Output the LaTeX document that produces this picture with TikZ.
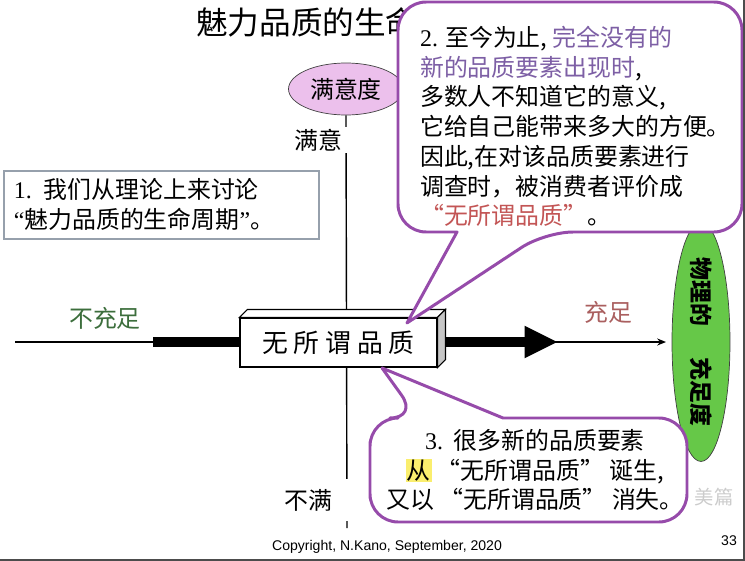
\documentclass[tikz,border=0pt]{standalone}
\usepackage{fontspec}
\setmainfont{Noto Sans CJK SC}
\newfontfamily\latinserif{Liberation Serif}
\newfontfamily\latinsans{Liberation Sans}
\usetikzlibrary{shapes.geometric,arrows.meta}
\definecolor{calloutpurple}{RGB}{150,75,170}
\definecolor{satpink}{RGB}{236,192,236}
\definecolor{physgreen}{RGB}{102,200,72}
\definecolor{textpurple}{RGB}{125,95,165}
\definecolor{textred}{RGB}{195,85,85}
\definecolor{deficgreen}{RGB}{60,110,60}
\definecolor{sufred}{RGB}{170,95,95}
\definecolor{noteframe}{RGB}{150,160,172}
\definecolor{hl}{RGB}{250,238,110}

\begin{document}
\begin{tikzpicture}[x=0.02cm, y=-0.02cm, font=\fontsize{13.6}{17}\selectfont]
\tikzset{
  callout/.style={draw=calloutpurple, line width=1.7pt, fill=white, line join=round},
  axis/.style={draw=black, line width=0.8pt},
  axislabel/.style={fill=white, inner sep=0pt},
  notebox/.style={draw=noteframe, line width=1pt, fill=white, align=left,
    text width=5.9cm, inner xsep=0.2cm, minimum height=1.36cm},
  front/.style={draw, fill=white, line width=0.6pt, minimum width=3.94cm,
    minimum height=0.98cm, inner sep=0pt, font=\fontsize{14.7}{17}\selectfont}
}
\useasboundingbox (0,0) rectangle (745,561);

\node[anchor=west, font=\fontsize{18}{20}\selectfont] (title) at (190,22) {魅力品质的生命周期};

\node[ellipse, draw=black!75, fill=satpink, minimum width=2.3cm, minimum height=1.04cm, inner sep=0pt] (sat) at (346,89) {满意度};
\coordinate (vbot) at (347,528);
\draw[axis] (sat.south) -- (vbot);
\node[axislabel, minimum width=1.4cm, minimum height=0.54cm] (satisfied) at (318,140) {满意};
\node[axislabel, minimum width=1.72cm, minimum height=0.84cm] (dissat) at (308,500) {不满};

\node[notebox, anchor=north west] (note1) at (3,170) {{\latinserif 1.} 我们从理论上来讨论\\{\latinserif “}魅力品质的生命周期{\latinserif ”}。};

\coordinate (hleft) at (15,342);
\coordinate (hright) at (666,342);
\coordinate (barstart) at (153,342);
\coordinate (barend) at (558,342);
\draw[axis, -{Stealth[length=5pt,width=4pt]}] (hleft) -- (hright);
\draw[line width=5.7pt, -{Triangle[length=19pt,width=17pt]}] (barstart) -- (barend);
\node[text=deficgreen] (insuf) at (105,318) {不充足};
\node[text=sufred] (suf) at (608,312) {充足};

\node[front] (indiff) at (338.5,342.5) {无 所 谓 品 质};
\draw[fill=white, line width=0.6pt] (indiff.north west) -- ++(8,-8) -- ([shift={(8,-8)}]indiff.north east) -- (indiff.north east) -- cycle;
\draw[fill=gray!45, line width=0.6pt] (indiff.north east) -- ++(8,-8) -- ([shift={(8,-8)}]indiff.south east) -- (indiff.south east) -- cycle;

\node[ellipse, draw=black!75, fill=physgreen, rotate=-90, minimum width=4.3cm, minimum height=1.16cm, inner sep=0pt, font=\bfseries\fontsize{13}{15}\selectfont] (phys) at (701,342) {物理的\quad\, 充足度};

\draw[callout] (398,120) [rounded corners=16pt] -- (398,2) -- (742,2) -- (742,232) -- (545,232) [sharp corners] -- (407,323) -- (457,232) [rounded corners=16pt] -- (398,232) -- cycle;
\node[anchor=north west, align=left, font=\fontsize{13.6}{16.9}\selectfont] (c2text) at (414,20) {{\latinserif 2.} 至今为止, \textcolor{textpurple}{完全没有的}\\\textcolor{textpurple}{新的品质要素出现时},\\多数人不知道它的意义,\\它给自己能带来多大的方便。\\因此,在对该品质要素进行\\调查时，被消费者评价成\\ \textcolor{textred}{“无所谓品质”}。};

\draw[callout] (370,470) [rounded corners=16pt] -- (370,418) -- (418,418) [sharp corners] -- (382,368) -- (503,418) [rounded corners=16pt] -- (687,418) -- (687,522) -- (370,522) -- cycle;
\node[align=center, font=\fontsize{13.6}{16.9}\selectfont] (c3text) at (535,470) {{\latinserif 3.}\ \ 很多新的品质要素\\\setlength{\fboxsep}{0.5pt}\colorbox{hl}{从} “无所谓品质” 诞生,\\又以 “无所谓品质” 消失。};

\node[text=black!20, font=\fontsize{11}{12}\selectfont] (mark) at (714,497) {美篇};
\node[font=\latinsans\fontsize{8}{9}\selectfont] (copy) at (387,547) {Copyright, N.Kano, September, 2020};
\node[font=\latinsans\fontsize{8}{9}\selectfont] (page) at (729,541) {33};
\draw[black!70, line width=1pt] (0,560) -- (744,560) -- (744,0);
\end{tikzpicture}
\end{document}
